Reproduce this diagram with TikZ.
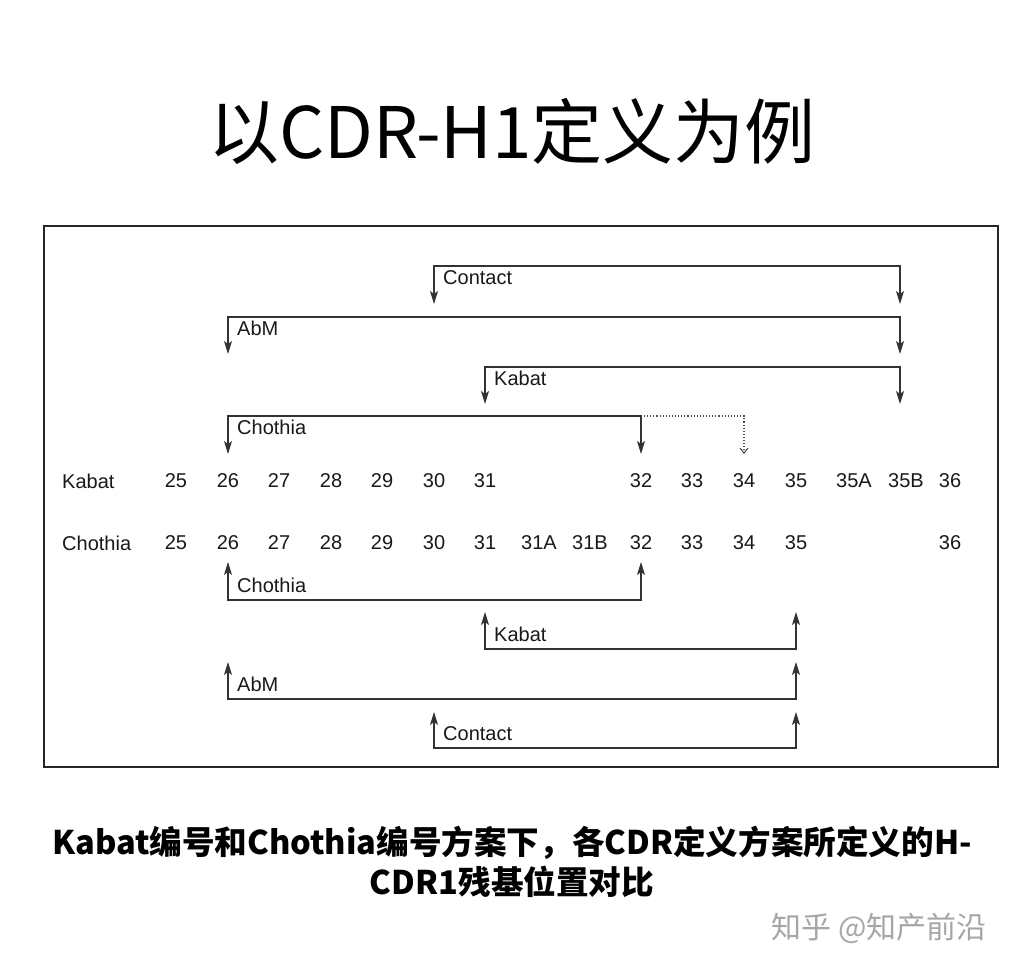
\documentclass[tikz,border=0pt]{standalone}
\usepackage{fontspec}
\setmainfont{Liberation Sans}
\newfontfamily\cjk{Noto Sans CJK SC}
\usetikzlibrary{arrows.meta}

\begin{document}
\begin{tikzpicture}[x=1pt, y=-1pt, >={Stealth[length=13pt, width=8pt, inset=3pt]},
    num/.style={font=\fontsize{20}{24}\selectfont, inner sep=0pt, text=black!90},
    lbl/.style={font=\fontsize{20}{24}\selectfont, inner sep=0pt, text=black!90},
    bar/.style={<->, line width=1.3pt, draw=black!80}]
    \useasboundingbox (0,0) rectangle (1014,968);
    \fill [white] (0,0) rectangle (1014,968);
    \node [font=\cjk\fontsize{71}{84}\selectfont] (title) at (512,131) {以CDR-H1定义为例};
    \draw [line width=1.4pt, black!85] (44,226) rectangle (998,767);
    % numbering rows
    \node [lbl, anchor=west] (kab) at (62,481) {Kabat};
    \node [lbl, anchor=west] (cho) at (62,543) {Chothia};
    \node [num] (k25) at (176,481) {25};
    \node [num] (k26) at (228,481) {26};
    \node [num] (k27) at (279,481) {27};
    \node [num] (k28) at (331,481) {28};
    \node [num] (k29) at (382,481) {29};
    \node [num] (k30) at (434,481) {30};
    \node [num] (k31) at (485,481) {31};
    \node [num] (k32) at (641,481) {32};
    \node [num] (k33) at (692,481) {33};
    \node [num] (k34) at (744,481) {34};
    \node [num] (k35) at (796,481) {35};
    \node [num] (k35A) at (854,481) {35A};
    \node [num] (k35B) at (906,481) {35B};
    \node [num] (k36) at (950,481) {36};
    \node [num] (c25) at (176,543) {25};
    \node [num] (c26) at (228,543) {26};
    \node [num] (c27) at (279,543) {27};
    \node [num] (c28) at (331,543) {28};
    \node [num] (c29) at (382,543) {29};
    \node [num] (c30) at (434,543) {30};
    \node [num] (c31) at (485,543) {31};
    \node [num] (c31A) at (539,543) {31A};
    \node [num] (c31B) at (590,543) {31B};
    \node [num] (c32) at (641,543) {32};
    \node [num] (c33) at (692,543) {33};
    \node [num] (c34) at (744,543) {34};
    \node [num] (c35) at (796,543) {35};
    \node [num] (c36) at (950,543) {36};
    % bar levels
    \coordinate (xr) at (900,0);
    \coordinate (t1) at (0,266);
    \coordinate (t1e) at (0,304);
    \coordinate (t2) at (0,317);
    \coordinate (t2e) at (0,354);
    \coordinate (t3) at (0,367);
    \coordinate (t3e) at (0,404);
    \coordinate (t4) at (0,416);
    \coordinate (t4e) at (0,454);
    \coordinate (b1) at (0,600);
    \coordinate (b1e) at (0,562);
    \coordinate (b2) at (0,649);
    \coordinate (b2e) at (0,612);
    \coordinate (b3) at (0,699);
    \coordinate (b3e) at (0,662);
    \coordinate (b4) at (0,748);
    \coordinate (b4e) at (0,712);
    % Kabat numbering, above
    \draw [bar] (k30 |- t1e) -- (k30 |- t1) -- (xr |- t1) -- (xr |- t1e);
    \draw [bar] (k26 |- t2e) -- (k26 |- t2) -- (xr |- t2) -- (xr |- t2e);
    \draw [bar] (k31 |- t3e) -- (k31 |- t3) -- (xr |- t3) -- (xr |- t3e);
    \draw [bar] (k26 |- t4e) -- (k26 |- t4) -- (k32 |- t4) -- (k32 |- t4e);
    \draw [line width=1.1pt, black!70, dotted, -{Straight Barb[length=5pt, width=8pt]}]
        ([xshift=3pt]k32 |- t4) -- (k34 |- t4) -- (k34 |- t4e);
    \node [lbl, anchor=north west, xshift=9pt, yshift=-4pt] (lt1) at (k30 |- t1) {Contact};
    \node [lbl, anchor=north west, xshift=9pt, yshift=-4pt] (lt2) at (k26 |- t2) {AbM};
    \node [lbl, anchor=north west, xshift=9pt, yshift=-4pt] (lt3) at (k31 |- t3) {Kabat};
    \node [lbl, anchor=north west, xshift=9pt, yshift=-4pt] (lt4) at (k26 |- t4) {Chothia};
    % Chothia numbering, below
    \draw [bar] (c26 |- b1e) -- (c26 |- b1) -- (c32 |- b1) -- (c32 |- b1e);
    \draw [bar] (c31 |- b2e) -- (c31 |- b2) -- (c35 |- b2) -- (c35 |- b2e);
    \draw [bar] (c26 |- b3e) -- (c26 |- b3) -- (c35 |- b3) -- (c35 |- b3e);
    \draw [bar] (c30 |- b4e) -- (c30 |- b4) -- (c35 |- b4) -- (c35 |- b4e);
    \node [lbl, anchor=south west, xshift=9pt, yshift=7pt] (lb1) at (c26 |- b1) {Chothia};
    \node [lbl, anchor=south west, xshift=9pt, yshift=7pt] (lb2) at (c31 |- b2) {Kabat};
    \node [lbl, anchor=south west, xshift=9pt, yshift=7pt] (lb3) at (c26 |- b3) {AbM};
    \node [lbl, anchor=south west, xshift=9pt, yshift=7pt] (lb4) at (c30 |- b4) {Contact};
    % caption
    \node [font=\cjk\bfseries\fontsize{32.6}{40}\selectfont, align=center, inner sep=0pt] (cap) at (512,862)
        {Kabat编号和Chothia编号方案下，各CDR定义方案所定义的H-\\CDR1残基位置对比};
    \node [font=\cjk\fontsize{30}{34}\selectfont, text=black!35, anchor=east, inner sep=0pt] (mark) at (987,928) {知乎 @知产前沿};
\end{tikzpicture}
\end{document}
